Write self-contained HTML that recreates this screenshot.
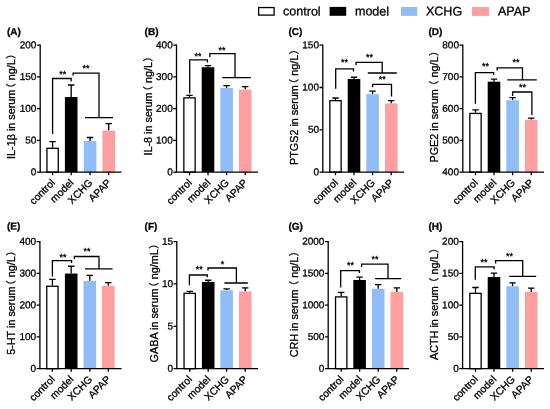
<!DOCTYPE html>
<html lang="en"><head><meta charset="utf-8"><title>Figure</title>
<style>html,body{margin:0;padding:0;background:#fff}svg{display:block}svg text{font-family:"Liberation Sans","Noto Sans CJK SC",sans-serif;stroke:#000;stroke-width:0.3px}</style></head><body>
<svg width="550" height="409" viewBox="0 0 550 409" fill="#000">
<rect width="550" height="409" fill="#fff"/>
<rect x="258.65" y="7.55" width="15.45" height="7.55" fill="#fff" stroke="#000" stroke-width="1.3"/>
<text transform="translate(283.1,15.3) rotate(0.3)" font-size="12.5">control</text>
<rect x="329.6" y="6.9" width="16.6" height="8.9" fill="#000"/>
<text transform="translate(355,15.3) rotate(0.3)" font-size="12.5">model</text>
<rect x="401" y="7" width="16.3" height="8.9" fill="#90BCF8"/>
<text transform="translate(426,15.3) rotate(0.3)" font-size="12.5">XCHG</text>
<rect x="472" y="7" width="17.1" height="8.9" fill="#FF9F9F"/>
<text transform="translate(498,15.3) rotate(0.3)" font-size="12.5">APAP</text>
<text transform="translate(6.9,34.9) rotate(0.3)" font-size="10" font-weight="bold">(A)</text>
<path d="M52.6 147.67V141.64M49.4 141.64H55.8" stroke="#000" stroke-width="1.3" fill="none"/>
<rect x="46.95" y="148.32" width="11.3" height="23.78" fill="#fff" stroke="#000" stroke-width="1.3"/>
<path d="M71.2 97.04V84.98M68 84.98H74.4" stroke="#000" stroke-width="1.3" fill="none"/>
<rect x="64.9" y="97.04" width="12.6" height="75.06" fill="#000"/>
<path d="M90.1 141.01V137.52M86.9 137.52H93.3" stroke="#000" stroke-width="1.3" fill="none"/>
<rect x="83.8" y="141.01" width="12.6" height="31.09" fill="#90BCF8"/>
<path d="M108.7 130.6V123.62M105.5 123.62H111.9" stroke="#000" stroke-width="1.3" fill="none"/>
<rect x="102.4" y="130.6" width="12.6" height="41.5" fill="#FF9F9F"/>
<path d="M40.2 44.55V172.75M39.55 172.1H121.5" stroke="#000" stroke-width="1.3" fill="none"/>
<text transform="translate(36.4,175.2) rotate(0.3)" font-size="10" text-anchor="end">0</text>
<text transform="translate(36.4,143.47) rotate(0.3)" font-size="10" text-anchor="end">50</text>
<text transform="translate(36.4,111.75) rotate(0.3)" font-size="10" text-anchor="end">100</text>
<text transform="translate(36.4,80.02) rotate(0.3)" font-size="10" text-anchor="end">150</text>
<text transform="translate(36.4,48.3) rotate(0.3)" font-size="10" text-anchor="end">200</text>
<path d="M36.9 172.1H40.2M36.9 140.38H40.2M36.9 108.65H40.2M36.9 76.92H40.2M36.9 45.2H40.2M52.6 172.1V175.2M71.2 172.1V175.2M90.1 172.1V175.2M108.7 172.1V175.2" stroke="#000" stroke-width="1.3" fill="none"/>
<text transform="translate(55.6,183.4) rotate(-45)" font-size="10.3" text-anchor="end">control</text>
<text transform="translate(74.2,183.4) rotate(-45)" font-size="10.3" text-anchor="end">model</text>
<text transform="translate(93.1,183.4) rotate(-45)" font-size="10.3" text-anchor="end">XCHG</text>
<text transform="translate(111.7,183.4) rotate(-45)" font-size="10.3" text-anchor="end">APAP</text>
<text transform="translate(15.4,158.9) rotate(-90)" font-size="10.8">IL-1β in serum<tspan dx="-3.86" font-size="10">（</tspan><tspan dx="0.24"> ng/L</tspan><tspan dx="0.5" font-size="10">）</tspan></text>
<path d="M52.6 134V78.5H71.2V81.4" stroke="#000" stroke-width="1.3" fill="none" stroke-linejoin="miter"/>
<path d="M73.1 75.6V73.2H99V117.6M85 117.6H113" stroke="#000" stroke-width="1.3" fill="none" stroke-linejoin="miter"/>
<text x="62.8" y="77" font-size="9" text-anchor="middle" style="stroke-width:0.3px">**</text>
<text x="86" y="71" font-size="9" text-anchor="middle" style="stroke-width:0.3px">**</text>
<text transform="translate(144.6,34.9) rotate(0.3)" font-size="10" font-weight="bold">(B)</text>
<path d="M189.5 97.23V95.33M186.3 95.33H192.7" stroke="#000" stroke-width="1.3" fill="none"/>
<rect x="183.85" y="97.88" width="11.3" height="74.22" fill="#fff" stroke="#000" stroke-width="1.3"/>
<path d="M208 67.25V65.66M204.8 65.66H211.2" stroke="#000" stroke-width="1.3" fill="none"/>
<rect x="201.7" y="67.25" width="12.6" height="104.85" fill="#000"/>
<path d="M226.6 87.97V85.59M223.4 85.59H229.8" stroke="#000" stroke-width="1.3" fill="none"/>
<rect x="220.3" y="87.97" width="12.6" height="84.13" fill="#90BCF8"/>
<path d="M245.2 89.61V86.6M242 86.6H248.4" stroke="#000" stroke-width="1.3" fill="none"/>
<rect x="238.9" y="89.61" width="12.6" height="82.48" fill="#FF9F9F"/>
<path d="M176.5 44.55V172.75M175.85 172.1H258" stroke="#000" stroke-width="1.3" fill="none"/>
<text transform="translate(172.7,175.2) rotate(0.3)" font-size="10" text-anchor="end">0</text>
<text transform="translate(172.7,143.47) rotate(0.3)" font-size="10" text-anchor="end">100</text>
<text transform="translate(172.7,111.75) rotate(0.3)" font-size="10" text-anchor="end">200</text>
<text transform="translate(172.7,80.02) rotate(0.3)" font-size="10" text-anchor="end">300</text>
<text transform="translate(172.7,48.3) rotate(0.3)" font-size="10" text-anchor="end">400</text>
<path d="M173.2 172.1H176.5M173.2 140.38H176.5M173.2 108.65H176.5M173.2 76.92H176.5M173.2 45.2H176.5M189.5 172.1V175.2M208 172.1V175.2M226.6 172.1V175.2M245.2 172.1V175.2" stroke="#000" stroke-width="1.3" fill="none"/>
<text transform="translate(192.5,183.4) rotate(-45)" font-size="10.3" text-anchor="end">control</text>
<text transform="translate(211,183.4) rotate(-45)" font-size="10.3" text-anchor="end">model</text>
<text transform="translate(229.6,183.4) rotate(-45)" font-size="10.3" text-anchor="end">XCHG</text>
<text transform="translate(248.2,183.4) rotate(-45)" font-size="10.3" text-anchor="end">APAP</text>
<text transform="translate(151.5,155.5) rotate(-90)" font-size="10.8">IL-8 in serum<tspan dx="-3.86" font-size="10">（</tspan><tspan dx="0.24"> ng/L</tspan><tspan dx="0.5" font-size="10">）</tspan></text>
<path d="M189.7 93.6V59.9H207.4V62.4" stroke="#000" stroke-width="1.3" fill="none" stroke-linejoin="miter"/>
<path d="M209.8 57V53.6H235V77.6M222.2 77.6H250.8" stroke="#000" stroke-width="1.3" fill="none" stroke-linejoin="miter"/>
<text x="198" y="59" font-size="9" text-anchor="middle" style="stroke-width:0.3px">**</text>
<text x="222" y="53" font-size="9" text-anchor="middle" style="stroke-width:0.3px">**</text>
<text transform="translate(288.5,34.9) rotate(0.3)" font-size="10" font-weight="bold">(C)</text>
<path d="M335.5 100.02V97.99M332.3 97.99H338.7" stroke="#000" stroke-width="1.3" fill="none"/>
<rect x="329.85" y="100.67" width="11.3" height="71.43" fill="#fff" stroke="#000" stroke-width="1.3"/>
<path d="M354 78.96V77.26M350.8 77.26H357.2" stroke="#000" stroke-width="1.3" fill="none"/>
<rect x="347.7" y="78.96" width="12.6" height="93.14" fill="#000"/>
<path d="M372.6 94.1V91.05M369.4 91.05H375.8" stroke="#000" stroke-width="1.3" fill="none"/>
<rect x="366.3" y="94.1" width="12.6" height="78" fill="#90BCF8"/>
<path d="M391.2 103.4V100.7M388 100.7H394.4" stroke="#000" stroke-width="1.3" fill="none"/>
<rect x="384.9" y="103.4" width="12.6" height="68.7" fill="#FF9F9F"/>
<path d="M322.8 44.55V172.75M322.15 172.1H404" stroke="#000" stroke-width="1.3" fill="none"/>
<text transform="translate(319,175.2) rotate(0.3)" font-size="10" text-anchor="end">0</text>
<text transform="translate(319,132.9) rotate(0.3)" font-size="10" text-anchor="end">50</text>
<text transform="translate(319,90.6) rotate(0.3)" font-size="10" text-anchor="end">100</text>
<text transform="translate(319,48.3) rotate(0.3)" font-size="10" text-anchor="end">150</text>
<path d="M319.5 172.1H322.8M319.5 129.8H322.8M319.5 87.5H322.8M319.5 45.2H322.8M335.5 172.1V175.2M354 172.1V175.2M372.6 172.1V175.2M391.2 172.1V175.2" stroke="#000" stroke-width="1.3" fill="none"/>
<text transform="translate(338.5,183.4) rotate(-45)" font-size="10.3" text-anchor="end">control</text>
<text transform="translate(357,183.4) rotate(-45)" font-size="10.3" text-anchor="end">model</text>
<text transform="translate(375.6,183.4) rotate(-45)" font-size="10.3" text-anchor="end">XCHG</text>
<text transform="translate(394.2,183.4) rotate(-45)" font-size="10.3" text-anchor="end">APAP</text>
<text transform="translate(298.2,165) rotate(-90)" font-size="10.8">PTGS2 in serum<tspan dx="-3.86" font-size="10">（</tspan><tspan dx="0.24"> ng/L</tspan><tspan dx="0.5" font-size="10">）</tspan></text>
<path d="M335.7 88.8V68.8H353.5V71.4" stroke="#000" stroke-width="1.3" fill="none" stroke-linejoin="miter"/>
<path d="M356.1 65V62.3H382.2V73M367.8 73H396.8" stroke="#000" stroke-width="1.3" fill="none" stroke-linejoin="miter"/>
<path d="M372.6 87.2V84.4H391.5V96.4" stroke="#000" stroke-width="1.3" fill="none" stroke-linejoin="miter"/>
<text x="344.6" y="65" font-size="9" text-anchor="middle" style="stroke-width:0.3px">**</text>
<text x="369.4" y="60" font-size="9" text-anchor="middle" style="stroke-width:0.3px">**</text>
<text x="382.2" y="82" font-size="9" text-anchor="middle" style="stroke-width:0.3px">**</text>
<text transform="translate(428.5,34.9) rotate(0.3)" font-size="10" font-weight="bold">(D)</text>
<path d="M475.5 112.77V109.92M472.3 109.92H478.7" stroke="#000" stroke-width="1.3" fill="none"/>
<rect x="469.85" y="113.42" width="11.3" height="58.68" fill="#fff" stroke="#000" stroke-width="1.3"/>
<path d="M494 81.68V79.15M490.8 79.15H497.2" stroke="#000" stroke-width="1.3" fill="none"/>
<rect x="487.7" y="81.68" width="12.6" height="90.42" fill="#000"/>
<path d="M512.6 100.24V97.55M509.4 97.55H515.8" stroke="#000" stroke-width="1.3" fill="none"/>
<rect x="506.3" y="100.24" width="12.6" height="71.86" fill="#90BCF8"/>
<path d="M531.2 119.75V118.17M528 118.17H534.4" stroke="#000" stroke-width="1.3" fill="none"/>
<rect x="524.9" y="119.75" width="12.6" height="52.35" fill="#FF9F9F"/>
<path d="M462.8 44.55V172.75M462.15 172.1H544" stroke="#000" stroke-width="1.3" fill="none"/>
<text transform="translate(459,175.2) rotate(0.3)" font-size="10" text-anchor="end">400</text>
<text transform="translate(459,143.47) rotate(0.3)" font-size="10" text-anchor="end">500</text>
<text transform="translate(459,111.75) rotate(0.3)" font-size="10" text-anchor="end">600</text>
<text transform="translate(459,80.02) rotate(0.3)" font-size="10" text-anchor="end">700</text>
<text transform="translate(459,48.3) rotate(0.3)" font-size="10" text-anchor="end">800</text>
<path d="M459.5 172.1H462.8M459.5 140.38H462.8M459.5 108.65H462.8M459.5 76.92H462.8M459.5 45.2H462.8M475.5 172.1V175.2M494 172.1V175.2M512.6 172.1V175.2M531.2 172.1V175.2" stroke="#000" stroke-width="1.3" fill="none"/>
<text transform="translate(478.5,183.4) rotate(-45)" font-size="10.3" text-anchor="end">control</text>
<text transform="translate(497,183.4) rotate(-45)" font-size="10.3" text-anchor="end">model</text>
<text transform="translate(515.6,183.4) rotate(-45)" font-size="10.3" text-anchor="end">XCHG</text>
<text transform="translate(534.2,183.4) rotate(-45)" font-size="10.3" text-anchor="end">APAP</text>
<text transform="translate(438.2,162.5) rotate(-90)" font-size="10.8">PGE2 in serum <tspan dx="-4.56" font-size="10">（</tspan><tspan dx="0.24"> ng/L</tspan><tspan dx="0.5" font-size="10">）</tspan></text>
<path d="M475.4 103.8V72.6H493.6V74.9" stroke="#000" stroke-width="1.3" fill="none" stroke-linejoin="miter"/>
<path d="M497.1 70.4V67.8H522.5V79.9M507.3 79.9H536.8" stroke="#000" stroke-width="1.3" fill="none" stroke-linejoin="miter"/>
<path d="M512.6 96V92H531.9V115" stroke="#000" stroke-width="1.3" fill="none" stroke-linejoin="miter"/>
<text x="485.6" y="69" font-size="9" text-anchor="middle" style="stroke-width:0.3px">**</text>
<text x="516" y="65" font-size="9" text-anchor="middle" style="stroke-width:0.3px">**</text>
<text x="522.4" y="90" font-size="9" text-anchor="middle" style="stroke-width:0.3px">**</text>
<text transform="translate(6.9,229.5) rotate(0.3)" font-size="10" font-weight="bold">(E)</text>
<path d="M52.4 285.61V279.41M49.2 279.41H55.6" stroke="#000" stroke-width="1.3" fill="none"/>
<rect x="46.75" y="286.26" width="11.3" height="82.44" fill="#fff" stroke="#000" stroke-width="1.3"/>
<path d="M71.2 273.53V266.23M68 266.23H74.4" stroke="#000" stroke-width="1.3" fill="none"/>
<rect x="64.9" y="273.53" width="12.6" height="95.17" fill="#000"/>
<path d="M89.8 280.84V275.28M86.6 275.28H93" stroke="#000" stroke-width="1.3" fill="none"/>
<rect x="83.5" y="280.84" width="12.6" height="87.86" fill="#90BCF8"/>
<path d="M108.3 285.77V282.59M105.1 282.59H111.5" stroke="#000" stroke-width="1.3" fill="none"/>
<rect x="102" y="285.77" width="12.6" height="82.93" fill="#FF9F9F"/>
<path d="M39.9 240.95V369.35M39.25 368.7H121.5" stroke="#000" stroke-width="1.3" fill="none"/>
<text transform="translate(36.1,371.8) rotate(0.3)" font-size="10" text-anchor="end">0</text>
<text transform="translate(36.1,340.03) rotate(0.3)" font-size="10" text-anchor="end">100</text>
<text transform="translate(36.1,308.25) rotate(0.3)" font-size="10" text-anchor="end">200</text>
<text transform="translate(36.1,276.48) rotate(0.3)" font-size="10" text-anchor="end">300</text>
<text transform="translate(36.1,244.7) rotate(0.3)" font-size="10" text-anchor="end">400</text>
<path d="M36.6 368.7H39.9M36.6 336.93H39.9M36.6 305.15H39.9M36.6 273.38H39.9M36.6 241.6H39.9M52.4 368.7V371.8M71.2 368.7V371.8M89.8 368.7V371.8M108.3 368.7V371.8" stroke="#000" stroke-width="1.3" fill="none"/>
<text transform="translate(55.4,380) rotate(-45)" font-size="10.3" text-anchor="end">control</text>
<text transform="translate(74.2,380) rotate(-45)" font-size="10.3" text-anchor="end">model</text>
<text transform="translate(92.8,380) rotate(-45)" font-size="10.3" text-anchor="end">XCHG</text>
<text transform="translate(111.3,380) rotate(-45)" font-size="10.3" text-anchor="end">APAP</text>
<text transform="translate(15.4,354.8) rotate(-90)" font-size="10.8">5-HT in serum<tspan dx="-3.86" font-size="10">（</tspan><tspan dx="0.24"> ng/L</tspan><tspan dx="0.5" font-size="10">）</tspan></text>
<path d="M52.4 276.6V260.6H71.6V263" stroke="#000" stroke-width="1.3" fill="none" stroke-linejoin="miter"/>
<path d="M74.4 259V256.5H99V268.8M85 268.8H112.6" stroke="#000" stroke-width="1.3" fill="none" stroke-linejoin="miter"/>
<text x="63" y="260" font-size="9" text-anchor="middle" style="stroke-width:0.3px">**</text>
<text x="87" y="254" font-size="9" text-anchor="middle" style="stroke-width:0.3px">**</text>
<text transform="translate(144.6,229.8) rotate(0.3)" font-size="10" font-weight="bold">(F)</text>
<path d="M189.7 292.69V291.34M186.5 291.34H192.9" stroke="#000" stroke-width="1.3" fill="none"/>
<rect x="184.05" y="293.34" width="11.3" height="75.36" fill="#fff" stroke="#000" stroke-width="1.3"/>
<path d="M208.2 281.93V280.24M205 280.24H211.4" stroke="#000" stroke-width="1.3" fill="none"/>
<rect x="201.9" y="281.93" width="12.6" height="86.77" fill="#000"/>
<path d="M226.6 290.32V288.8M223.4 288.8H229.8" stroke="#000" stroke-width="1.3" fill="none"/>
<rect x="220.3" y="290.32" width="12.6" height="78.38" fill="#90BCF8"/>
<path d="M245.2 291.42V287.86M242 287.86H248.4" stroke="#000" stroke-width="1.3" fill="none"/>
<rect x="238.9" y="291.42" width="12.6" height="77.28" fill="#FF9F9F"/>
<path d="M176.8 240.95V369.35M176.15 368.7H258" stroke="#000" stroke-width="1.3" fill="none"/>
<text transform="translate(173,371.8) rotate(0.3)" font-size="10" text-anchor="end">0</text>
<text transform="translate(173,329.43) rotate(0.3)" font-size="10" text-anchor="end">5</text>
<text transform="translate(173,287.07) rotate(0.3)" font-size="10" text-anchor="end">10</text>
<text transform="translate(173,244.7) rotate(0.3)" font-size="10" text-anchor="end">15</text>
<path d="M173.5 368.7H176.8M173.5 326.33H176.8M173.5 283.97H176.8M173.5 241.6H176.8M189.7 368.7V371.8M208.2 368.7V371.8M226.6 368.7V371.8M245.2 368.7V371.8" stroke="#000" stroke-width="1.3" fill="none"/>
<text transform="translate(192.7,380) rotate(-45)" font-size="10.3" text-anchor="end">control</text>
<text transform="translate(211.2,380) rotate(-45)" font-size="10.3" text-anchor="end">model</text>
<text transform="translate(229.6,380) rotate(-45)" font-size="10.3" text-anchor="end">XCHG</text>
<text transform="translate(248.2,380) rotate(-45)" font-size="10.3" text-anchor="end">APAP</text>
<text transform="translate(158.1,362.4) rotate(-90)" font-size="10.8">GABA in serum<tspan dx="-3.86" font-size="10">（</tspan><tspan dx="0.24"> ng/mL</tspan><tspan dx="0.5" font-size="10">）</tspan></text>
<path d="M189.4 285.2V275H207.3V277.2" stroke="#000" stroke-width="1.3" fill="none" stroke-linejoin="miter"/>
<path d="M208 270.4V268H236.4V283M224.4 283H247.8" stroke="#000" stroke-width="1.3" fill="none" stroke-linejoin="miter"/>
<text x="199.2" y="272" font-size="9" text-anchor="middle" style="stroke-width:0.3px">**</text>
<text x="222.6" y="267" font-size="9" text-anchor="middle" style="stroke-width:0.3px">*</text>
<text transform="translate(288.5,229.8) rotate(0.3)" font-size="10" font-weight="bold">(G)</text>
<path d="M341.2 296.25V292.31M338 292.31H344.4" stroke="#000" stroke-width="1.3" fill="none"/>
<rect x="335.55" y="296.9" width="11.3" height="71.8" fill="#fff" stroke="#000" stroke-width="1.3"/>
<path d="M359.6 279.98V277.06M356.4 277.06H362.8" stroke="#000" stroke-width="1.3" fill="none"/>
<rect x="353.3" y="279.98" width="12.6" height="88.72" fill="#000"/>
<path d="M378.2 288.75V284.56M375 284.56H381.4" stroke="#000" stroke-width="1.3" fill="none"/>
<rect x="371.9" y="288.75" width="12.6" height="79.95" fill="#90BCF8"/>
<path d="M396.8 291.93V287.93M393.6 287.93H400" stroke="#000" stroke-width="1.3" fill="none"/>
<rect x="390.5" y="291.93" width="12.6" height="76.77" fill="#FF9F9F"/>
<path d="M328.2 240.95V369.35M327.55 368.7H409" stroke="#000" stroke-width="1.3" fill="none"/>
<text transform="translate(324.4,371.8) rotate(0.3)" font-size="10" text-anchor="end">0</text>
<text transform="translate(324.4,340.03) rotate(0.3)" font-size="10" text-anchor="end">500</text>
<text transform="translate(324.4,308.25) rotate(0.3)" font-size="10" text-anchor="end">1000</text>
<text transform="translate(324.4,276.48) rotate(0.3)" font-size="10" text-anchor="end">1500</text>
<text transform="translate(324.4,244.7) rotate(0.3)" font-size="10" text-anchor="end">2000</text>
<path d="M324.9 368.7H328.2M324.9 336.93H328.2M324.9 305.15H328.2M324.9 273.38H328.2M324.9 241.6H328.2M341.2 368.7V371.8M359.6 368.7V371.8M378.2 368.7V371.8M396.8 368.7V371.8" stroke="#000" stroke-width="1.3" fill="none"/>
<text transform="translate(344.2,380) rotate(-45)" font-size="10.3" text-anchor="end">control</text>
<text transform="translate(362.6,380) rotate(-45)" font-size="10.3" text-anchor="end">model</text>
<text transform="translate(381.2,380) rotate(-45)" font-size="10.3" text-anchor="end">XCHG</text>
<text transform="translate(399.8,380) rotate(-45)" font-size="10.3" text-anchor="end">APAP</text>
<text transform="translate(297.6,357.3) rotate(-90)" font-size="10.8">CRH in serum <tspan dx="-4.56" font-size="10">（</tspan><tspan dx="0.24"> ng/L</tspan><tspan dx="0.5" font-size="10">）</tspan></text>
<path d="M340.7 287.6V270.6H359.4V273" stroke="#000" stroke-width="1.3" fill="none" stroke-linejoin="miter"/>
<path d="M361.6 267V264.1H388V278.6M375.1 278.6H401.2" stroke="#000" stroke-width="1.3" fill="none" stroke-linejoin="miter"/>
<text x="350.4" y="268" font-size="9" text-anchor="middle" style="stroke-width:0.3px">**</text>
<text x="375" y="262" font-size="9" text-anchor="middle" style="stroke-width:0.3px">**</text>
<text transform="translate(428.5,229.8) rotate(0.3)" font-size="10" font-weight="bold">(H)</text>
<path d="M475.5 292.69V287.48M472.3 287.48H478.7" stroke="#000" stroke-width="1.3" fill="none"/>
<rect x="469.85" y="293.34" width="11.3" height="75.36" fill="#fff" stroke="#000" stroke-width="1.3"/>
<path d="M494 277.06V273.12M490.8 273.12H497.2" stroke="#000" stroke-width="1.3" fill="none"/>
<rect x="487.7" y="277.06" width="12.6" height="91.64" fill="#000"/>
<path d="M512.6 286.28V282.97M509.4 282.97H515.8" stroke="#000" stroke-width="1.3" fill="none"/>
<rect x="506.3" y="286.28" width="12.6" height="82.42" fill="#90BCF8"/>
<path d="M531.2 292V288.06M528 288.06H534.4" stroke="#000" stroke-width="1.3" fill="none"/>
<rect x="524.9" y="292" width="12.6" height="76.7" fill="#FF9F9F"/>
<path d="M462.6 240.95V369.35M461.95 368.7H544" stroke="#000" stroke-width="1.3" fill="none"/>
<text transform="translate(458.8,371.8) rotate(0.3)" font-size="10" text-anchor="end">0</text>
<text transform="translate(458.8,340.03) rotate(0.3)" font-size="10" text-anchor="end">50</text>
<text transform="translate(458.8,308.25) rotate(0.3)" font-size="10" text-anchor="end">100</text>
<text transform="translate(458.8,276.48) rotate(0.3)" font-size="10" text-anchor="end">150</text>
<text transform="translate(458.8,244.7) rotate(0.3)" font-size="10" text-anchor="end">200</text>
<path d="M459.3 368.7H462.6M459.3 336.93H462.6M459.3 305.15H462.6M459.3 273.38H462.6M459.3 241.6H462.6M475.5 368.7V371.8M494 368.7V371.8M512.6 368.7V371.8M531.2 368.7V371.8" stroke="#000" stroke-width="1.3" fill="none"/>
<text transform="translate(478.5,380) rotate(-45)" font-size="10.3" text-anchor="end">control</text>
<text transform="translate(497,380) rotate(-45)" font-size="10.3" text-anchor="end">model</text>
<text transform="translate(515.6,380) rotate(-45)" font-size="10.3" text-anchor="end">XCHG</text>
<text transform="translate(534.2,380) rotate(-45)" font-size="10.3" text-anchor="end">APAP</text>
<text transform="translate(437.6,360) rotate(-90)" font-size="10.8">ACTH in serum <tspan dx="-4.56" font-size="10">（</tspan><tspan dx="0.24"> ng/L</tspan><tspan dx="0.5" font-size="10">）</tspan></text>
<path d="M475.3 279.8V266.9H494.1V269.4" stroke="#000" stroke-width="1.3" fill="none" stroke-linejoin="miter"/>
<path d="M495.6 263.4V260.7H522.7V276.3M509.2 276.3H536.2" stroke="#000" stroke-width="1.3" fill="none" stroke-linejoin="miter"/>
<text x="484" y="265" font-size="9" text-anchor="middle" style="stroke-width:0.3px">**</text>
<text x="509.4" y="259" font-size="9" text-anchor="middle" style="stroke-width:0.3px">**</text>
</svg></body></html>
